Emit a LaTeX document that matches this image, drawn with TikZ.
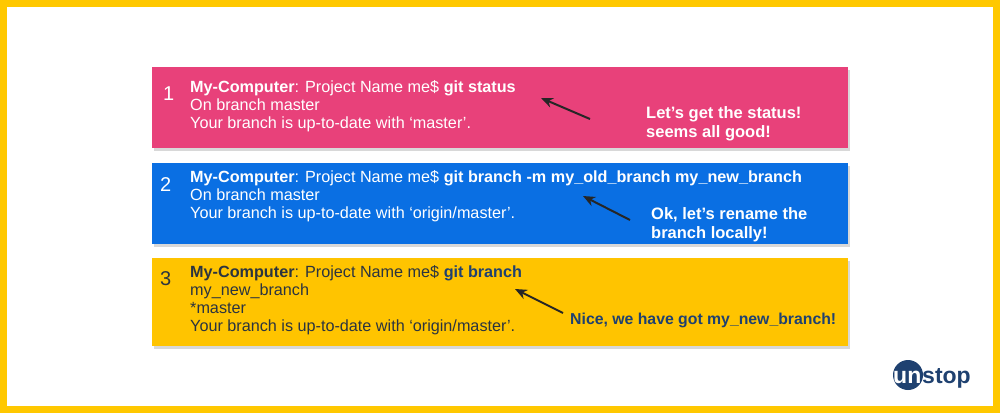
\documentclass[tikz,border=0pt]{standalone}
\usepackage{fontspec}
\setmainfont{Liberation Sans}
\usetikzlibrary{shadows,arrows.meta}
\definecolor{ybord}{HTML}{FFC800}
\definecolor{pinkb}{HTML}{E8417A}
\definecolor{blueb}{HTML}{0A6FE3}
\definecolor{yelb}{HTML}{FFC400}
\definecolor{navy}{HTML}{1F4170}
\definecolor{dtext}{HTML}{2B3440}
\begin{document}
\begin{tikzpicture}[x=1pt,y=-1pt,
  panel/.style={draw=none,drop shadow={shadow xshift=2pt,shadow yshift=-3pt,opacity=0.3}},
  txt/.style={anchor=base west,inner sep=0pt,font=\fontsize{16.2}{18}\selectfont},
  num/.style={anchor=base west,inner sep=0pt,font=\fontsize{20}{20}\selectfont},
  note/.style={anchor=base west,inner sep=0pt,align=left,font=\fontsize{16.5}{19}\selectfont\bfseries},
  arr/.style={-{Stealth[length=12pt,width=10pt]},line width=2pt,draw=black!85}]
\fill[ybord] (0,0) rectangle (1000,413);
\fill[white] (7,7) rectangle (993,406);
\useasboundingbox (0,0) rectangle (1000,413);
% panels
\node[panel,fill=pinkb,minimum width=696,minimum height=81,anchor=north west] (p1) at (152,67) {};
\node[panel,fill=blueb,minimum width=696,minimum height=81,anchor=north west] (p2) at (152,163) {};
\node[panel,fill=yelb,minimum width=696,minimum height=88,anchor=north west] (p3) at (152,258) {};
% panel 1
\node[num,white] (n1) at (163,100) {1};
\node[txt,white] (a1) at (190,92) {\textbf{My-Computer}: Project Name me\$ \textbf{git status}};
\node[txt,white] (a2) at (190,110) {On branch master};
\node[txt,white] (a3) at (190,128) {Your branch is up-to-date with ‘master’.};
\node[note,white] (m1) at (646,137) {Let’s get the status!\\seems all good!};
\coordinate (s1) at (590,119); \coordinate (e1) at (541,98);
\draw[arr] (s1) -- (e1);
% panel 2
\node[num,white] (n2) at (160,191) {2};
\node[txt,white] (b1) at (190,182) {\textbf{My-Computer}: Project Name me\$ \textbf{git branch -m my\_old\_branch my\_new\_branch}};
\node[txt,white] (b2) at (190,200) {On branch master};
\node[txt,white] (b3) at (190,218) {Your branch is up-to-date with ‘origin/master’.};
\node[note,white] (m2) at (651,238) {Ok, let’s rename the\\branch locally!};
\coordinate (s2) at (630,220); \coordinate (e2) at (583,196);
\draw[arr] (s2) -- (e2);
% panel 3
\node[num,dtext] (n3) at (160,285) {3};
\node[txt,dtext] (c1) at (190,277) {\textbf{My-Computer}: Project Name me\$ \textbf{\color{navy}git branch}};
\node[txt,dtext] (c2) at (190,295) {my\_new\_branch};
\node[txt,dtext] (c3) at (190,313) {*master};
\node[txt,dtext] (c4) at (190,331) {Your branch is up-to-date with ‘origin/master’.};
\node[note,navy,font=\fontsize{15.8}{19}\selectfont\bfseries] (m3) at (570,324) {Nice, we have got my\_new\_branch!};
\coordinate (s3) at (563,313); \coordinate (e3) at (515,289);
\draw[arr] (s3) -- (e3);
% logo
\node[circle,fill=navy,minimum size=30pt,inner sep=0pt] (lc) at (908,375) {};
\node[anchor=base west,inner sep=0pt,white,font=\fontsize{23}{24}\selectfont\bfseries] (lu) at (893,383) {un};
\node[anchor=base west,inner sep=0pt,navy,font=\fontsize{23}{24}\selectfont\bfseries] (ls) at (922,383) {stop};
\end{tikzpicture}
\end{document}
